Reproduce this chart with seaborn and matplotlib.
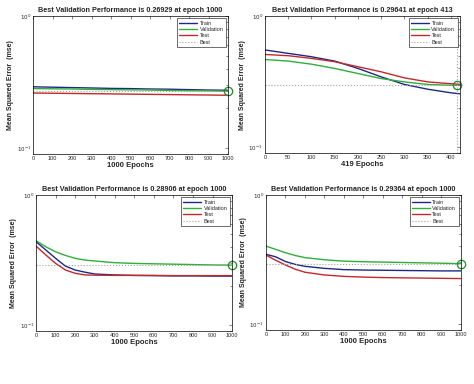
import numpy as np
import pandas as pd
import matplotlib
matplotlib.use("Agg")
import matplotlib.pyplot as plt
import seaborn as sns

# ---- data ----
epochs1 = [0, 100, 200, 300, 400, 500, 600, 700, 800, 900, 1000]
train1 = [0.291, 0.289, 0.287, 0.285, 0.283, 0.282, 0.280, 0.279, 0.277, 0.275, 0.274]
val1 = [0.282, 0.281, 0.280, 0.278, 0.277, 0.276, 0.275, 0.273, 0.272, 0.271, 0.26929]
test1 = [0.261, 0.260, 0.259, 0.258, 0.257, 0.256, 0.255, 0.254, 0.253, 0.252, 0.251]

epochs2 = [0, 50, 100, 150, 200, 250, 300, 350, 400, 413, 419]
train2 = [0.552, 0.520, 0.490, 0.454, 0.399, 0.344, 0.301, 0.277, 0.260, 0.257, 0.256]
val2 = [0.467, 0.454, 0.430, 0.399, 0.365, 0.334, 0.315, 0.301, 0.2970, 0.29641, 0.2968]
test2 = [0.510, 0.499, 0.476, 0.449, 0.411, 0.376, 0.338, 0.315, 0.305, 0.303, 0.302]

epochs3 = [0, 50, 100, 150, 200, 250, 300, 400, 500, 600, 700, 800, 900, 1000]
train3 = [0.438, 0.378, 0.326, 0.284, 0.265, 0.255, 0.247, 0.243, 0.241, 0.240, 0.239, 0.239, 0.238, 0.238]
val3 = [0.446, 0.400, 0.366, 0.343, 0.326, 0.316, 0.311, 0.302, 0.298, 0.296, 0.294, 0.292, 0.290, 0.28906]
test3 = [0.405, 0.346, 0.298, 0.265, 0.250, 0.243, 0.242, 0.241, 0.241, 0.241, 0.240, 0.240, 0.240, 0.240]

epochs4 = [0, 50, 100, 150, 200, 300, 400, 500, 600, 700, 800, 900, 1000]
train4 = [0.347, 0.332, 0.305, 0.290, 0.280, 0.270, 0.264, 0.262, 0.261, 0.260, 0.259, 0.258, 0.258]
val4 = [0.402, 0.379, 0.357, 0.340, 0.327, 0.315, 0.307, 0.304, 0.302, 0.300, 0.298, 0.296, 0.29364]
test4 = [0.343, 0.312, 0.287, 0.266, 0.252, 0.240, 0.234, 0.231, 0.229, 0.228, 0.227, 0.226, 0.225]

best_epochs = [1000, 413, 1000, 1000]
best_perf = [0.26929, 0.29641, 0.28906, 0.29364]
epoch_labels = ["1000 Epochs", "419 Epochs", "1000 Epochs", "1000 Epochs"]
x_max = [1000, 419, 1000, 1000]
x_ticks = [list(range(0, 1001, 100)), list(range(0, 401, 50)),
           list(range(0, 1001, 100)), list(range(0, 1001, 100))]

panels = [
    (epochs1, train1, val1, test1),
    (epochs2, train2, val2, test2),
    (epochs3, train3, val3, test3),
    (epochs4, train4, val4, test4),
]

colors = {"Train": "#1c2a86", "Validation": "#2fae3a", "Test": "#c4282c"}

sns.set_style("white")
plt.rcParams["font.family"] = ["Liberation Sans", "DejaVu Sans"]

fig = plt.figure(figsize=(4.74, 3.84), dpi=100)
positions = [
    [0.070, 0.599, 0.411, 0.359],
    [0.559, 0.601, 0.411, 0.357],
    [0.076, 0.138, 0.414, 0.354],
    [0.561, 0.141, 0.411, 0.351],
]

for i, (ep, tr, va, te) in enumerate(panels):
    ax = fig.add_axes(positions[i])
    df = pd.DataFrame({
        "epoch": ep * 3,
        "mse": tr + va + te,
        "set": ["Train"] * len(ep) + ["Validation"] * len(ep) + ["Test"] * len(ep),
    })
    sns.lineplot(data=df, x="epoch", y="mse", hue="set", palette=colors,
                 linewidth=1.0, ax=ax, legend=False)

    # best markers: dotted cross-hair + circle
    ax.axvline(best_epochs[i], color="#9aa49a", linestyle=":", linewidth=0.8)
    ax.axhline(best_perf[i], color="#9aa49a", linestyle=":", linewidth=0.8)
    ax.plot([best_epochs[i]], [best_perf[i]], "o", markersize=6, markerfacecolor="none",
            markeredgecolor="#1f8a2a", markeredgewidth=0.9, clip_on=False)

    ax.set_yscale("log")
    ax.set_ylim(0.09, 1.0)
    ax.set_xlim(0, x_max[i])
    ax.set_xticks(x_ticks[i])
    ax.set_yticks([0.1, 1.0])
    ax.set_yticklabels([r"$10^{-1}$", r"$10^{0}$"])
    ax.tick_params(axis="both", which="both", direction="in", labelsize=4, length=2,
                   width=0.4, pad=1.5, top=True, right=True)
    ax.tick_params(axis="y", which="minor", length=1.2)
    for s in ax.spines.values():
        s.set_linewidth(0.5)
        s.set_color("black")

    ax.set_title(f"Best Validation Performance is {best_perf[i]:.5f} at epoch {best_epochs[i]}",
                 fontsize=5.2, fontweight="bold", pad=3)
    ax.set_xlabel(epoch_labels[i], fontsize=5.5, fontweight="bold", labelpad=0.5)
    ax.set_ylabel("Mean Squared Error  (mse)", fontsize=5, fontweight="bold", labelpad=2)

    handles = [
        plt.Line2D([], [], color=colors["Train"], linewidth=1.0),
        plt.Line2D([], [], color=colors["Validation"], linewidth=1.0),
        plt.Line2D([], [], color=colors["Test"], linewidth=1.0),
        plt.Line2D([], [], color="#9aa49a", linewidth=0.8, linestyle=":"),
    ]
    leg = ax.legend(handles, ["Train", "Validation", "Test", "Best"], loc="upper right",
                    fontsize=4, frameon=True, fancybox=False, edgecolor="black",
                    handlelength=3.2, handletextpad=0.5, borderpad=0.4, labelspacing=0.25,
                    borderaxespad=0.4)
    leg.get_frame().set_linewidth(0.5)

fig.savefig("out.png", dpi=100)
